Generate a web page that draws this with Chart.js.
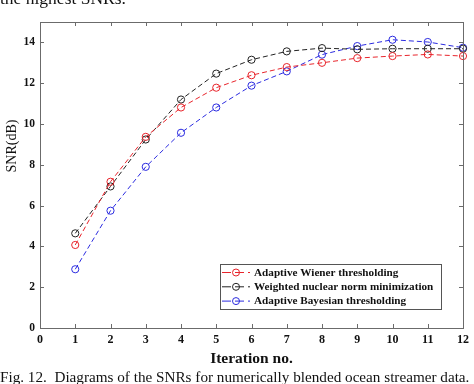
<!DOCTYPE html>
<html>
<head>
<meta charset="utf-8">
<script src="https://cdn.jsdelivr.net/npm/chart.js@4/dist/chart.umd.min.js"></script>
<style>
  html, body { margin: 0; padding: 0; background: #fff; }
</style>
</head>
<body>
<canvas id="graphique" width="474" height="384"></canvas>
<script>
// data
var iterations = [1, 2, 3, 4, 5, 6, 7, 8, 9, 10, 11, 12];
var wiener  = [4.07, 7.17, 9.37, 10.81, 11.78, 12.39, 12.79, 13.00, 13.23, 13.33, 13.41, 13.33];
var nuclear = [4.64, 6.94, 9.24, 11.20, 12.47, 13.15, 13.56, 13.72, 13.66, 13.69, 13.69, 13.69];
var bayes   = [2.88, 5.75, 7.90, 9.57, 10.81, 11.88, 12.58, 13.40, 13.82, 14.13, 14.02, 13.74];
var seriesNames = ['Adaptive Wiener thresholding', 'Weighted nuclear norm minimization', 'Adaptive Bayesian thresholding'];
var seriesColors = ['#e8242b', '#222222', '#2b2be0'];
var xTitle = 'Iteration no.';
var yTitle = 'SNR(dB)';
var caption = 'Fig. 12.  Diagrams of the SNRs for numerically blended ocean streamer data.';
var topText = 'the highest SNRs.';

var serif = "'Liberation Serif', 'Times New Roman', serif";

function pts(ys) {
  return iterations.map(function (x, i) { return { x: x, y: ys[i] }; });
}

function makeSet(name, ys, color) {
  return {
    label: name,
    data: pts(ys),
    borderColor: color,
    borderWidth: 1,
    borderDash: [5, 3],
    pointStyle: 'circle',
    pointRadius: 3.6,
    pointHoverRadius: 3.6,
    pointBorderWidth: 1,
    pointBorderColor: color,
    pointBackgroundColor: 'rgba(0,0,0,0)',
    tension: 0,
    fill: false,
    clip: false
  };
}

// box, inward ticks, legend and extra texts
var decor = {
  id: 'decor',
  afterDraw: function (chart) {
    var ctx = chart.ctx;
    var a = chart.chartArea;
    var xs = chart.scales.x, ys = chart.scales.y;
    ctx.save();
    ctx.strokeStyle = '#6b6b6b';
    ctx.lineWidth = 1;
    ctx.setLineDash([]);
    ctx.strokeRect(Math.round(a.left) + 0.5, Math.round(a.top) + 0.5,
      Math.round(a.right - a.left), Math.round(a.bottom - a.top));
    ctx.beginPath();
    xs.ticks.forEach(function (t) {
      var px = Math.round(xs.getPixelForValue(t.value)) + 0.5;
      ctx.moveTo(px, a.bottom); ctx.lineTo(px, a.bottom - 4);
      ctx.moveTo(px, a.top); ctx.lineTo(px, a.top + 4);
    });
    ys.ticks.forEach(function (t) {
      var py = Math.round(ys.getPixelForValue(t.value)) + 0.5;
      ctx.moveTo(a.left, py); ctx.lineTo(a.left + 4, py);
      ctx.moveTo(a.right, py); ctx.lineTo(a.right - 4, py);
    });
    ctx.stroke();

    // legend box
    var lx = 220, ly = 264, lw = 221, lh = 45;
    ctx.fillStyle = '#fff';
    ctx.fillRect(lx, ly, lw, lh);
    ctx.strokeStyle = '#555';
    ctx.strokeRect(lx + 0.5, ly + 0.5, lw, lh);
    ctx.font = 'bold 11.2px ' + serif;
    ctx.textBaseline = 'middle';
    ctx.textAlign = 'left';
    for (var i = 0; i < seriesNames.length; i++) {
      var ry = ly + 8.5 + i * 14.3;
      ctx.strokeStyle = seriesColors[i];
      ctx.setLineDash([9, 4]);
      ctx.beginPath();
      ctx.moveTo(222, ry); ctx.lineTo(250, ry);
      ctx.stroke();
      ctx.setLineDash([]);
      ctx.beginPath();
      ctx.arc(236, ry, 3.5, 0, Math.PI * 2);
      ctx.stroke();
      ctx.fillStyle = '#111';
      ctx.fillText(seriesNames[i], 254, ry + 0.5);
    }

    // y title
    ctx.save();
    ctx.translate(12, 146);
    ctx.rotate(-Math.PI / 2);
    ctx.font = '14px ' + serif;
    ctx.textAlign = 'center';
    ctx.fillStyle = '#111';
    ctx.fillText(yTitle, 0, 0);
    ctx.restore();

    // caption and cut text on top
    ctx.textAlign = 'left';
    ctx.textBaseline = 'alphabetic';
    ctx.fillStyle = '#111';
    ctx.font = '15.2px ' + serif;
    ctx.fillText(caption, 0, 382);
    ctx.font = '17.5px ' + serif;
    ctx.fillText(topText, 0, 4);
    ctx.restore();
  }
};

var ctx = document.getElementById('graphique');
var myChart = new Chart(ctx, {
  type: 'line',
  data: {
    datasets: [
      makeSet(seriesNames[0], wiener, seriesColors[0]),
      makeSet(seriesNames[1], nuclear, seriesColors[1]),
      makeSet(seriesNames[2], bayes, seriesColors[2])
    ]
  },
  options: {
    responsive: false,
    animation: false,
    devicePixelRatio: 1,
    layout: { padding: { left: 0, right: 11, top: 22, bottom: 0 } },
    plugins: { legend: { display: false }, tooltip: { enabled: false } },
    scales: {
      x: {
        type: 'linear', min: 0, max: 12,
        grid: { display: false, drawTicks: false },
        border: { display: false },
        ticks: { stepSize: 1, padding: 5, color: '#111', font: { family: serif, size: 12, weight: 'bold' } },
        title: { display: true, text: xTitle, color: '#111', padding: { top: 0, bottom: 16 }, font: { family: serif, size: 15.5, weight: 'bold' } },
        afterFit: function (s) { s.height = 56; }
      },
      y: {
        type: 'linear', min: 0, max: 15,
        grid: { display: false, drawTicks: false },
        border: { display: false },
        ticks: { stepSize: 2, includeBounds: false, padding: 5, color: '#111', font: { family: serif, size: 11.5, weight: 'bold' } },
        afterFit: function (s) { s.width = 40; }
      }
    }
  },
  plugins: [decor]
});
</script>
</body>
</html>
